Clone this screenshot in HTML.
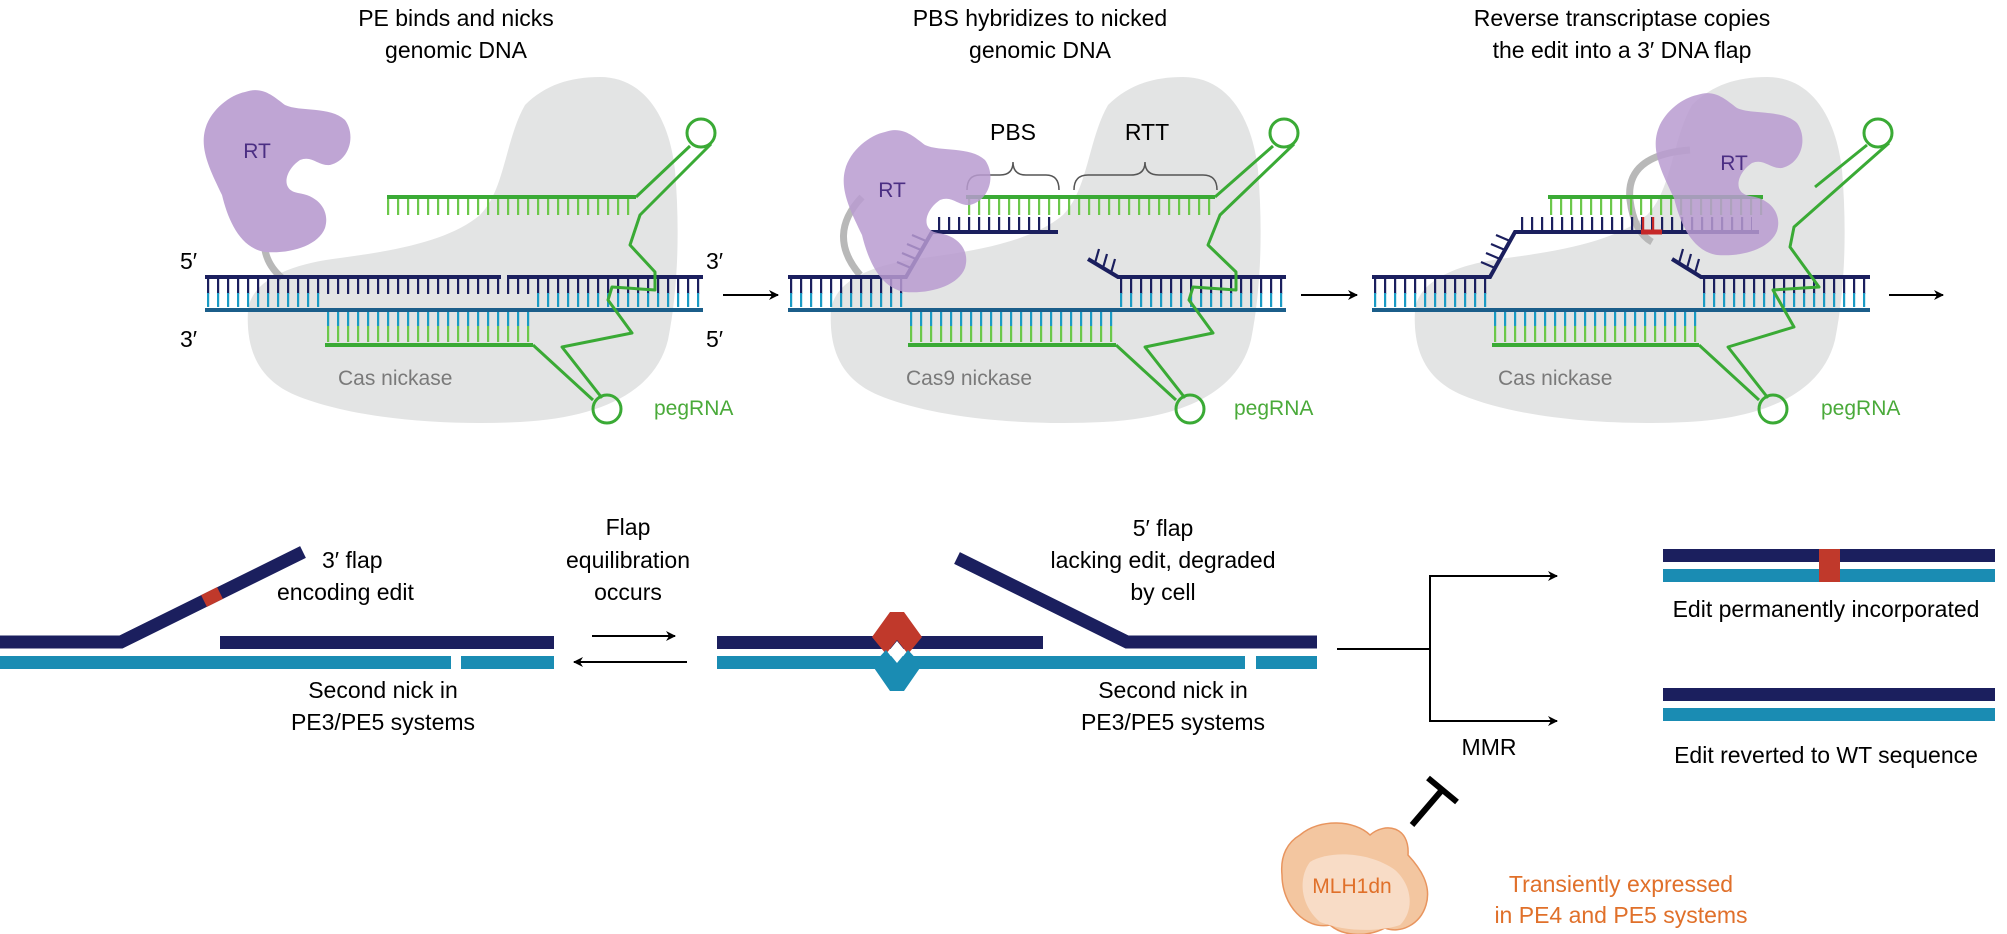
<!DOCTYPE html>
<html><head><meta charset="utf-8"><style>
html,body{margin:0;padding:0;background:#fff;}
svg{display:block;}
text{font-family:"Liberation Sans",Arial,sans-serif;}
</style></head><body>
<svg width="2007" height="934" viewBox="0 0 2007 934" xmlns="http://www.w3.org/2000/svg">
<defs>
<path id="cas" d="M600,77 C640,77 668,110 675,170 C680,230 678,290 668,340 C655,392 600,418 520,422 C440,426 350,418 295,395 C255,378 246,345 248,310 C252,280 290,264 340,258 C400,250 450,240 480,215 C505,190 505,140 525,105 C545,85 570,77 600,77 Z"/>
<path id="rt" d="M245,92 C262,86 272,95 285,105 C300,112 330,106 345,120 C356,135 350,160 330,165 C318,166 312,155 300,160 C285,170 280,190 298,193 C320,196 330,212 325,228 C318,246 290,254 265,252 C240,248 228,220 222,195 C210,170 200,150 205,130 C210,110 230,95 245,92 Z"/>
<marker id="ah" markerWidth="10" markerHeight="10" refX="9" refY="5" orient="auto" markerUnits="userSpaceOnUse"><path d="M0,0 L10,5 L0,10 L3,5 Z" fill="#000"/></marker>
</defs>

<!-- ================= PANEL 1 ================= -->
<text x="456" y="26" font-size="23" text-anchor="middle">PE binds and nicks</text>
<text x="456" y="58" font-size="23" text-anchor="middle">genomic DNA</text>
<use href="#cas" fill="#e3e4e4"/>
<path d="M265,250 Q268,266 282,278" fill="none" stroke="#b8b8b8" stroke-width="7"/>
<use href="#rt" fill="#bfa5d4"/>
<text x="257" y="158" font-size="21" fill="#4b2e83" text-anchor="middle">RT</text>
<!-- green upper -->
<line x1="387" y1="207" x2="632" y2="207" stroke="#6cc84a" stroke-width="16" stroke-dasharray="2.2 7.8"/>
<line x1="387" y1="197" x2="636" y2="197" stroke="#3aaa35" stroke-width="4"/>
<!-- DNA -->
<line x1="205" y1="277" x2="501" y2="277" stroke="#1b1f5e" stroke-width="4"/>
<line x1="507" y1="277" x2="703" y2="277" stroke="#1b1f5e" stroke-width="4"/>
<line x1="207" y1="286" x2="703" y2="286" stroke="#1b1f5e" stroke-width="16" stroke-dasharray="2.2 7.8"/>
<line x1="207" y1="300" x2="322" y2="300" stroke="#1a9bc4" stroke-width="14" stroke-dasharray="2.2 7.8"/>
<line x1="537" y1="300" x2="703" y2="300" stroke="#1a9bc4" stroke-width="14" stroke-dasharray="2.2 7.8"/>
<line x1="205" y1="310" x2="703" y2="310" stroke="#1b5e8a" stroke-width="4"/>
<line x1="327" y1="319" x2="533" y2="319" stroke="#1a9bc4" stroke-width="14" stroke-dasharray="2.2 7.8"/>
<line x1="327" y1="334" x2="533" y2="334" stroke="#6cc84a" stroke-width="16" stroke-dasharray="2.2 7.8"/>
<line x1="325" y1="345" x2="533" y2="345" stroke="#3aaa35" stroke-width="4"/>
<!-- pegRNA -->
<g fill="none" stroke="#3aaa35" stroke-width="3" stroke-linejoin="round">
<polyline points="636,197 690,146"/>
<circle cx="701" cy="133" r="14"/>
<polyline points="711,144 640,215 630,245 655,272 655,290 612,287 608,300 632,333 562,347 602,398"/>
<polyline points="533,345 593,400"/>
<circle cx="607" cy="409" r="14"/>
</g>
<text x="180" y="269" font-size="23">5′</text>
<text x="180" y="347" font-size="23">3′</text>
<text x="706" y="269" font-size="23">3′</text>
<text x="706" y="347" font-size="23">5′</text>
<text x="338" y="385" font-size="21" fill="#7a7a7a">Cas nickase</text>
<text x="654" y="415" font-size="21" fill="#4aaa3a">pegRNA</text>
<line x1="723" y1="295" x2="778" y2="295" stroke="#000" stroke-width="2" marker-end="url(#ah)"/>

<!-- ================= PANEL 2 ================= -->
<text x="1040" y="26" font-size="23" text-anchor="middle">PBS hybridizes to nicked</text>
<text x="1040" y="58" font-size="23" text-anchor="middle">genomic DNA</text>
<use href="#cas" fill="#e3e4e4" transform="translate(583,0)"/>
<path d="M862,197 Q826,235 860,275" fill="none" stroke="#b8b8b8" stroke-width="7"/>
<text x="1013" y="140" font-size="23" text-anchor="middle">PBS</text>
<text x="1147" y="140" font-size="23" text-anchor="middle">RTT</text>
<path d="M967,190 Q967,175 980,175 L1000,175 Q1013,175 1013,162 Q1013,175 1026,175 L1046,175 Q1059,175 1059,190" fill="none" stroke="#555" stroke-width="1.5"/>
<path d="M1074,190 Q1074,175 1088,175 L1131,175 Q1145,175 1145,162 Q1145,175 1159,175 L1203,175 Q1217,175 1217,190" fill="none" stroke="#555" stroke-width="1.5"/>
<line x1="968" y1="207" x2="1212" y2="207" stroke="#6cc84a" stroke-width="16" stroke-dasharray="2.2 7.8"/>
<line x1="966" y1="197" x2="1215" y2="197" stroke="#3aaa35" stroke-width="4"/>
<line x1="938" y1="224" x2="1058" y2="224" stroke="#1b1f5e" stroke-width="14" stroke-dasharray="2.2 7.8"/>
<polyline points="788,277 906,277 932,232 1058,232" fill="none" stroke="#1b1f5e" stroke-width="4"/>
<g stroke="#1b1f5e" stroke-width="2.2">
<line x1="911" y1="268" x2="897" y2="262"/><line x1="916" y1="259" x2="902" y2="253"/><line x1="921" y1="250" x2="907" y2="244"/><line x1="926" y1="241" x2="912" y2="235"/>
</g>
<polyline points="1088,259 1118,277 1286,277" fill="none" stroke="#1b1f5e" stroke-width="4"/>
<g stroke="#1b1f5e" stroke-width="2.2">
<line x1="1095" y1="263" x2="1099" y2="249"/><line x1="1103" y1="268" x2="1107" y2="254"/><line x1="1111" y1="273" x2="1115" y2="259"/>
</g>
<line x1="790" y1="286" x2="906" y2="286" stroke="#1b1f5e" stroke-width="16" stroke-dasharray="2.2 7.8"/>
<line x1="790" y1="300" x2="906" y2="300" stroke="#1a9bc4" stroke-width="14" stroke-dasharray="2.2 7.8"/>
<line x1="1120" y1="286" x2="1286" y2="286" stroke="#1b1f5e" stroke-width="16" stroke-dasharray="2.2 7.8"/>
<line x1="1120" y1="300" x2="1286" y2="300" stroke="#1a9bc4" stroke-width="14" stroke-dasharray="2.2 7.8"/>
<line x1="788" y1="310" x2="1286" y2="310" stroke="#1b5e8a" stroke-width="4"/>
<line x1="910" y1="319" x2="1116" y2="319" stroke="#1a9bc4" stroke-width="14" stroke-dasharray="2.2 7.8"/>
<line x1="910" y1="334" x2="1116" y2="334" stroke="#6cc84a" stroke-width="16" stroke-dasharray="2.2 7.8"/>
<line x1="908" y1="345" x2="1116" y2="345" stroke="#3aaa35" stroke-width="4"/>
<g fill="none" stroke="#3aaa35" stroke-width="3" stroke-linejoin="round">
<polyline points="1215,197 1273,146"/>
<circle cx="1284" cy="133" r="14"/>
<polyline points="1294,144 1220,215 1208,245 1236,272 1236,290 1193,287 1189,300 1213,333 1145,347 1185,398"/>
<polyline points="1116,345 1176,400"/>
<circle cx="1190" cy="409" r="14"/>
</g>
<use href="#rt" fill="#b99bd0" opacity="0.85" transform="translate(640,40)"/>
<text x="892" y="197" font-size="21" fill="#4b2e83" text-anchor="middle">RT</text>
<text x="906" y="385" font-size="21" fill="#7a7a7a">Cas9 nickase</text>
<text x="1234" y="415" font-size="21" fill="#4aaa3a">pegRNA</text>
<line x1="1301" y1="295" x2="1357" y2="295" stroke="#000" stroke-width="2" marker-end="url(#ah)"/>

<!-- ================= PANEL 3 ================= -->
<text x="1622" y="26" font-size="23" text-anchor="middle">Reverse transcriptase copies</text>
<text x="1622" y="58" font-size="23" text-anchor="middle">the edit into a 3′ DNA flap</text>
<use href="#cas" fill="#e3e4e4" transform="translate(1167,0)"/>
<path d="M1690,150 Q1625,155 1630,200 Q1634,232 1652,242" fill="none" stroke="#b8b8b8" stroke-width="7"/>
<line x1="1550" y1="207" x2="1763" y2="207" stroke="#6cc84a" stroke-width="16" stroke-dasharray="2.2 7.8"/>
<line x1="1548" y1="197" x2="1763" y2="197" stroke="#3aaa35" stroke-width="4"/>
<line x1="1521" y1="224" x2="1752" y2="224" stroke="#1b1f5e" stroke-width="14" stroke-dasharray="2.2 7.8"/>
<polyline points="1372,277 1490,277 1515,232 1759,232" fill="none" stroke="#1b1f5e" stroke-width="4"/>
<rect x="1641" y="217" width="21" height="17" fill="#fff" opacity="0"/>
<line x1="1642" y1="224" x2="1662" y2="224" stroke="#c62828" stroke-width="14" stroke-dasharray="2.2 7.8" stroke-dashoffset="0"/>
<line x1="1641" y1="232" x2="1662" y2="232" stroke="#c62828" stroke-width="5"/>
<g stroke="#1b1f5e" stroke-width="2.2">
<line x1="1495" y1="268" x2="1481" y2="262"/><line x1="1500" y1="259" x2="1486" y2="253"/><line x1="1505" y1="250" x2="1491" y2="244"/><line x1="1510" y1="241" x2="1496" y2="235"/>
</g>
<polyline points="1672,259 1701,277 1870,277" fill="none" stroke="#1b1f5e" stroke-width="4"/>
<g stroke="#1b1f5e" stroke-width="2.2">
<line x1="1679" y1="263" x2="1683" y2="249"/><line x1="1687" y1="268" x2="1691" y2="254"/><line x1="1695" y1="273" x2="1699" y2="259"/>
</g>
<line x1="1374" y1="286" x2="1490" y2="286" stroke="#1b1f5e" stroke-width="16" stroke-dasharray="2.2 7.8"/>
<line x1="1374" y1="300" x2="1490" y2="300" stroke="#1a9bc4" stroke-width="14" stroke-dasharray="2.2 7.8"/>
<line x1="1703" y1="286" x2="1870" y2="286" stroke="#1b1f5e" stroke-width="16" stroke-dasharray="2.2 7.8"/>
<line x1="1703" y1="300" x2="1870" y2="300" stroke="#1a9bc4" stroke-width="14" stroke-dasharray="2.2 7.8"/>
<line x1="1372" y1="310" x2="1870" y2="310" stroke="#1b5e8a" stroke-width="4"/>
<line x1="1494" y1="319" x2="1699" y2="319" stroke="#1a9bc4" stroke-width="14" stroke-dasharray="2.2 7.8"/>
<line x1="1494" y1="334" x2="1699" y2="334" stroke="#6cc84a" stroke-width="16" stroke-dasharray="2.2 7.8"/>
<line x1="1492" y1="345" x2="1699" y2="345" stroke="#3aaa35" stroke-width="4"/>
<g fill="none" stroke="#3aaa35" stroke-width="3" stroke-linejoin="round">
<polyline points="1815,187 1867,145"/>
<circle cx="1878" cy="133" r="14"/>
<polyline points="1889,143 1794,227 1790,247 1819,287 1773,290 1794,327 1728,347 1768,398"/>
<polyline points="1699,345 1759,400"/>
<circle cx="1773" cy="409" r="14"/>
</g>
<use href="#rt" fill="#b99bd0" opacity="0.85" transform="translate(1452,3)"/>
<text x="1734" y="170" font-size="21" fill="#4b2e83" text-anchor="middle">RT</text>
<text x="1498" y="385" font-size="21" fill="#7a7a7a">Cas nickase</text>
<text x="1821" y="415" font-size="21" fill="#4aaa3a">pegRNA</text>
<line x1="1889" y1="295" x2="1943" y2="295" stroke="#000" stroke-width="2" marker-end="url(#ah)"/>

<!-- ================= BOTTOM ================= -->
<polyline points="0,642 121,642 303,552" fill="none" stroke="#1b1f5e" stroke-width="13"/>
<line x1="204" y1="601" x2="220" y2="593" stroke="#c0392b" stroke-width="13"/>
<rect x="220" y="636" width="334" height="13" fill="#1b1f5e"/>
<rect x="0" y="656" width="451" height="13" fill="#1a8cb3"/>
<rect x="461" y="656" width="93" height="13" fill="#1a8cb3"/>
<text x="322" y="568" font-size="23">3′ flap</text>
<text x="277" y="600" font-size="23">encoding edit</text>
<text x="383" y="698" font-size="23" text-anchor="middle">Second nick in</text>
<text x="383" y="730" font-size="23" text-anchor="middle">PE3/PE5 systems</text>
<text x="628" y="535" font-size="23" text-anchor="middle">Flap</text>
<text x="628" y="568" font-size="23" text-anchor="middle">equilibration</text>
<text x="628" y="600" font-size="23" text-anchor="middle">occurs</text>
<line x1="592" y1="636" x2="675" y2="636" stroke="#000" stroke-width="2" marker-end="url(#ah)"/>
<line x1="687" y1="662" x2="574" y2="662" stroke="#000" stroke-width="2" marker-end="url(#ah)"/>

<rect x="717" y="636" width="326" height="13" fill="#1b1f5e"/>
<polyline points="957,558 1127,642 1317,642" fill="none" stroke="#1b1f5e" stroke-width="13"/>
<rect x="717" y="656" width="528" height="13" fill="#1a8cb3"/>
<rect x="1256" y="656" width="61" height="13" fill="#1a8cb3"/>
<polygon points="872,637 890,612 904,612 922,637 908,654 897,640 886,654" fill="#c0392b"/>
<polygon points="886,650 897,664 908,650 922,665 904,691 890,691 872,665" fill="#1a8cb3"/>
<polygon points="897,641 906,652 897,663 888,652" fill="#fff"/>
<text x="1163" y="536" font-size="23" text-anchor="middle">5′ flap</text>
<text x="1163" y="568" font-size="23" text-anchor="middle">lacking edit, degraded</text>
<text x="1163" y="600" font-size="23" text-anchor="middle">by cell</text>
<text x="1173" y="698" font-size="23" text-anchor="middle">Second nick in</text>
<text x="1173" y="730" font-size="23" text-anchor="middle">PE3/PE5 systems</text>

<polyline points="1337,649 1430,649" fill="none" stroke="#000" stroke-width="2"/>
<polyline points="1430,576 1430,721" fill="none" stroke="#000" stroke-width="2"/>
<line x1="1429" y1="576" x2="1557" y2="576" stroke="#000" stroke-width="2" marker-end="url(#ah)"/>
<line x1="1429" y1="721" x2="1557" y2="721" stroke="#000" stroke-width="2" marker-end="url(#ah)"/>
<text x="1489" y="755" font-size="23" text-anchor="middle">MMR</text>

<rect x="1663" y="549" width="332" height="13" fill="#1b1f5e"/>
<rect x="1663" y="569" width="332" height="13" fill="#1a8cb3"/>
<rect x="1819" y="549" width="21" height="33" fill="#c0392b"/>
<text x="1826" y="617" font-size="23" text-anchor="middle">Edit permanently incorporated</text>
<rect x="1663" y="688" width="332" height="13" fill="#1b1f5e"/>
<rect x="1663" y="708" width="332" height="13" fill="#1a8cb3"/>
<text x="1826" y="763" font-size="23" text-anchor="middle">Edit reverted to WT sequence</text>

<line x1="1412" y1="825" x2="1442" y2="790" stroke="#000" stroke-width="6"/>
<line x1="1428" y1="778" x2="1457" y2="802" stroke="#000" stroke-width="6"/>
<path d="M1300,835 C1320,818 1355,820 1370,835 C1385,822 1410,826 1408,855 C1420,868 1432,885 1426,905 C1420,925 1400,934 1385,928 C1370,936 1345,938 1330,925 C1305,930 1282,905 1282,875 C1280,855 1288,842 1300,835 Z" fill="#f3c6a0" stroke="#e8955f" stroke-width="1.5"/>
<path d="M1310,862 C1330,850 1370,852 1395,870 C1412,885 1415,910 1400,925 C1380,932 1345,932 1320,922 C1300,905 1298,878 1310,862 Z" fill="#f8dcc6"/>
<text x="1352" y="893" font-size="21" fill="#e0702a" text-anchor="middle">MLH1dn</text>
<text x="1621" y="892" font-size="23" fill="#e0702a" text-anchor="middle">Transiently expressed</text>
<text x="1621" y="923" font-size="23" fill="#e0702a" text-anchor="middle">in PE4 and PE5 systems</text>
</svg>
</body></html>
